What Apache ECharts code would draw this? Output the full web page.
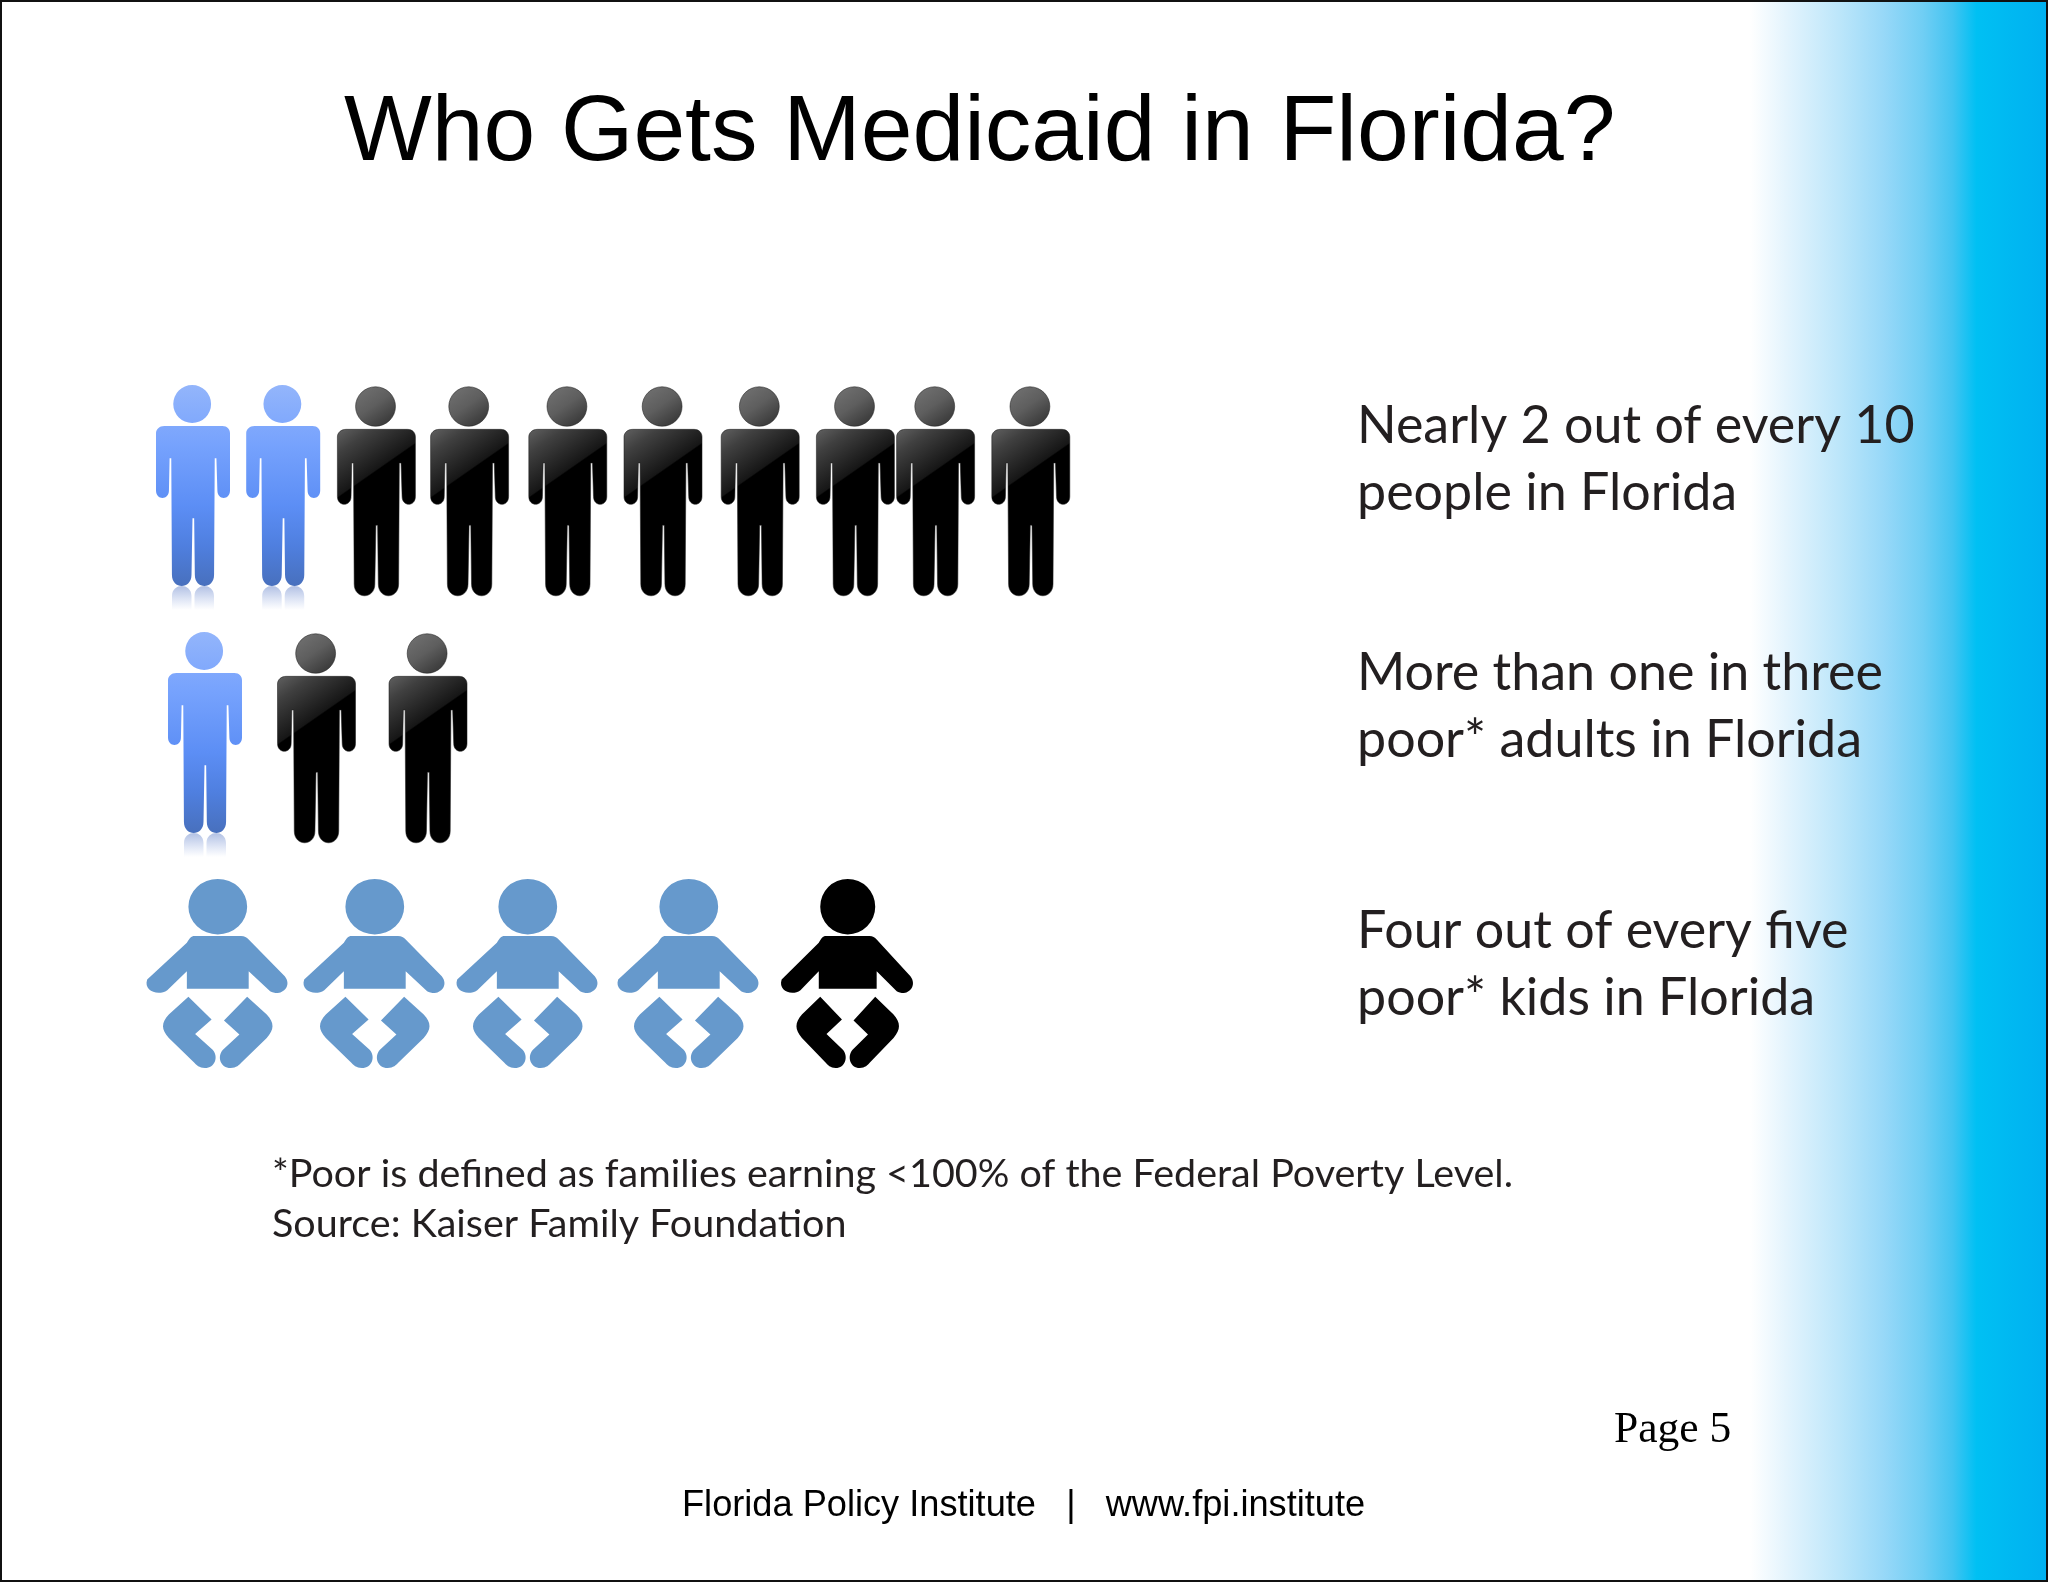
<!DOCTYPE html>
<html>
<head>
<meta charset="utf-8">
<style>
  html, body { margin: 0; padding: 0; background: #fff; }
  #chart { width: 2048px; height: 1582px; }
</style>
<script src="https://cdn.jsdelivr.net/npm/echarts@6/dist/echarts.min.js"></script>
</head>
<body>
<div id="chart"></div>
<script>
// 1 = on Medicaid, 0 = not
var everyone = [1, 1, 0, 0, 0, 0, 0, 0, 0, 0];
var poorAdults = [1, 0, 0];
var poorKids = [1, 1, 1, 1, 0];

var rowLabels = [
  'Nearly 2 out of every 10\npeople in Florida',
  'More than one in three\npoor* adults in Florida',
  'Four out of every five\npoor* kids in Florida'
];
var titleText = 'Who Gets Medicaid in Florida?';
var noteText = '*Poor is defined as families earning <100% of the Federal Poverty Level.\nSource: Kaiser Family Foundation';
var pageText = 'Page 5';
var footerText = 'Florida Policy Institute   |   www.fpi.institute';

// the icons are not quite evenly spaced
var everyoneNudge = [0, -3, -3, -3, 2, 4, 8, 10, -3, -1];
var kidsNudge = [0, 0, -4, 0, 2];

var personPath = 'path://M132 102A57 57 0 1 1 246 102A57 57 0 1 1 132 102Z' +
  'M105 168L280 168C295 168 303 178 303 190L303 362C303 392 265 392 265 362L262 265L257 265L255 615' +
  'C255 660 197 660 197 615L195 445L190 445L187 615C187 660 128 660 128 615L126 265L121 265L119 362' +
  'C119 392 80 392 80 362L80 190C80 178 90 168 105 168Z';
var babyPath = 'path://M113 142A57 83 0 1 1 227 142A57 83 0 1 1 113 142Z' +
  'M125 230L215 230C222 230 226 235 230 240L300 350C315 380 295 405 280 400C274 398 272 396 270 393L230 335L230 388L110 388L110 335' +
  'L72 392C55 410 25 395 33 360L110 250C115 238 118 230 125 230Z' +
  'M113 412L158 480L126 523L160 570C172 590 165 625 145 625C134 625 128 615 125 610L75 535C60 510 60 490 75 465Z' +
  'M227 412L182 483L212 525L180 570C168 590 175 625 195 625C206 625 212 615 215 610L265 535C280 510 280 490 265 465Z';
var footPath = 'path://M0 30C0 -8 58 -8 58 30L58 70L0 70ZM67 30C67 -8 125 -8 125 30L125 70L67 70Z';

var blueFill = {
  type: 'linear', x: 0, y: 0, x2: 0, y2: 1,
  colorStops: [
    { offset: 0, color: '#93b5fb' },
    { offset: 0.3, color: '#76a2fd' },
    { offset: 0.6, color: '#5c8ef5' },
    { offset: 0.8, color: '#4f7fdf' },
    { offset: 1, color: '#4870bd' }
  ]
};
// diagonal gloss with a hard edge across the shoulders
var glossFill = {
  type: 'linear', x: 0, y: 0, x2: 0.13, y2: 0.5,
  colorStops: [
    { offset: 0, color: '#7c7c7c' },
    { offset: 0.4, color: '#5e5e5e' },
    { offset: 0.6, color: '#404040' },
    { offset: 0.985, color: '#161616' },
    { offset: 1, color: '#000000' }
  ]
};
var footFill = {
  type: 'linear', x: 0, y: 0, x2: 0, y2: 1,
  colorStops: [
    { offset: 0, color: 'rgba(100,130,200,0.5)' },
    { offset: 1, color: 'rgba(120,150,220,0)' }
  ]
};

function pick(row, flag, nudge, dy) {
  return row.map(function (v, i) {
    if (v !== flag) return null;
    return { value: 1, symbolOffset: [nudge ? nudge[i] : 0, dy] };
  });
}

function personSeries(row, idx, nudge) {
  return [
    {
      name: 'not covered', type: 'pictorialBar', xAxisIndex: idx, yAxisIndex: idx,
      barGap: '-100%', symbol: personPath, symbolSize: [78, 209], symbolPosition: 'start',
      itemStyle: { color: glossFill, borderColor: '#1c1c1c', borderWidth: 1.5 },
      data: pick(row, 0, nudge, 0)
    },
    {
      name: 'covered', type: 'pictorialBar', xAxisIndex: idx, yAxisIndex: idx,
      barGap: '-100%', symbol: personPath, symbolSize: [74, 201], symbolPosition: 'start',
      itemStyle: { color: blueFill },
      data: pick(row, 1, nudge, -11)
    },
    {
      name: 'reflection', type: 'pictorialBar', xAxisIndex: idx, yAxisIndex: idx,
      barGap: '-100%', symbol: footPath, symbolSize: [42, 24], symbolPosition: 'start',
      itemStyle: { color: footFill },
      data: pick(row, 1, nudge, 13)
    }
  ];
}

function babySeries(row, idx, nudge) {
  return [
    {
      name: 'covered', type: 'pictorialBar', xAxisIndex: idx, yAxisIndex: idx,
      barGap: '-100%', symbol: babyPath, symbolSize: [141, 189], symbolPosition: 'start',
      itemStyle: { color: '#6699cc' },
      data: pick(row, 1, nudge, 0)
    },
    {
      name: 'not covered', type: 'pictorialBar', xAxisIndex: idx, yAxisIndex: idx,
      barGap: '-100%', symbol: babyPath, symbolSize: [132, 189], symbolPosition: 'start',
      itemStyle: { color: '#000000' },
      data: pick(row, 0, nudge, 0)
    }
  ];
}

function slots(row) {
  return row.map(function (v, i) { return String(i + 1); });
}
function hiddenX(row, idx) {
  return { type: 'category', gridIndex: idx, data: slots(row), show: false };
}
function hiddenY(idx) {
  return { type: 'value', gridIndex: idx, min: 0, max: 1, show: false };
}

var sideFont = { fontFamily: 'Lato', fontSize: 52, fill: '#231f20', lineHeight: 67 };

var option = {
  animation: false,
  backgroundColor: '#ffffff',
  title: {
    text: titleText, left: 339, top: 83,
    textStyle: { fontFamily: 'Liberation Sans', fontSize: 93, fontWeight: 'normal', color: '#000' }
  },
  grid: [
    { left: 146.4, top: 388, width: 932, height: 209 },
    { left: 149.25, top: 635, width: 334.5, height: 209 },
    { left: 138.5, top: 879, width: 785, height: 189 }
  ],
  xAxis: [hiddenX(everyone, 0), hiddenX(poorAdults, 1), hiddenX(poorKids, 2)],
  yAxis: [hiddenY(0), hiddenY(1), hiddenY(2)],
  series: personSeries(everyone, 0, everyoneNudge)
    .concat(personSeries(poorAdults, 1))
    .concat(babySeries(poorKids, 2, kidsNudge)),
  graphic: [
    {
      type: 'rect', z: -10, silent: true,
      shape: { x: 1750, y: 0, width: 298, height: 1582 },
      style: {
        fill: {
          type: 'linear', x: 0, y: 0, x2: 1, y2: 0,
          colorStops: [
            { offset: 0, color: '#ffffff' },
            { offset: 0.12, color: '#e4f4fd' },
            { offset: 0.3, color: '#bce6fa' },
            { offset: 0.45, color: '#97d8f8' },
            { offset: 0.58, color: '#70cef4' },
            { offset: 0.68, color: '#42c4f1' },
            { offset: 0.76, color: '#00c0f3' },
            { offset: 1, color: '#00b0f0' }
          ]
        }
      }
    },
    {
      type: 'rect', z: 50, silent: true,
      shape: { x: 1, y: 1, width: 2046, height: 1580 },
      style: { fill: 'none', stroke: '#111', lineWidth: 2 }
    },
    { type: 'text', x: 1357, y: 459.5, style: Object.assign({ text: rowLabels[0], verticalAlign: 'middle' }, sideFont) },
    { type: 'text', x: 1357, y: 706.5, style: Object.assign({ text: rowLabels[1], verticalAlign: 'middle' }, sideFont) },
    { type: 'text', x: 1357, y: 964.5, style: Object.assign({ text: rowLabels[2], verticalAlign: 'middle' }, sideFont) },
    {
      type: 'text', x: 272, y: 1199.5,
      style: { text: noteText, verticalAlign: 'middle', fontFamily: 'Lato', fontSize: 39.5, lineHeight: 50, fill: '#231f20' }
    },
    {
      type: 'text', x: 1614, y: 1431,
      style: { text: pageText, verticalAlign: 'middle', fontFamily: 'Liberation Serif', fontSize: 43.5, fill: '#000' }
    },
    {
      type: 'text', x: 682, y: 1506,
      style: { text: footerText, verticalAlign: 'middle', fontFamily: 'Liberation Sans', fontSize: 36.2, fill: '#000' }
    }
  ]
};

var myChart = echarts.init(document.getElementById('chart'));
myChart.setOption(option);
</script>
</body>
</html>
